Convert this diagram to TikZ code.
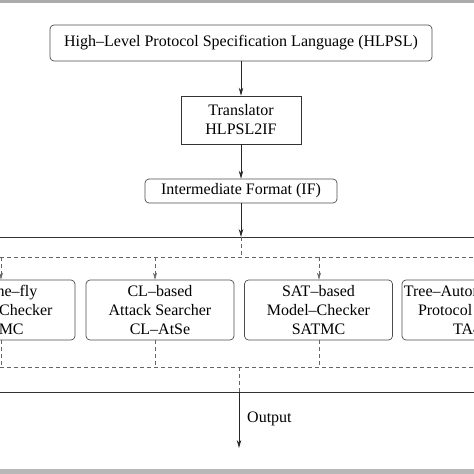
\documentclass[tikz,border=0pt]{standalone}
\usepackage{fontspec}
\setmainfont{Liberation Serif}
\usetikzlibrary{arrows.meta}
\begin{document}
\begin{tikzpicture}[x=1pt,y=-1pt,
  font=\fontsize{16}{19}\selectfont,
  rbox/.style={draw=black!70,rounded corners=4pt,line width=0.7pt,align=center,inner sep=0pt},
  sbox/.style={draw=black!80,line width=0.7pt,align=center,inner sep=0pt},
  tool/.style={rbox,minimum width=148pt,minimum height=60pt},
  arr/.style={-{Stealth[length=8pt,width=4.5pt]},line width=0.7pt,black!85},
  dline/.style={dash pattern=on 4pt off 3pt,line width=0.6pt,black!60},
  darr/.style={dline,-{Stealth[length=7pt,width=4pt]}},
  sline/.style={line width=0.8pt,black!80}]
\useasboundingbox (0,0) rectangle (474,474);
\clip (0,0) rectangle (474,474);
\fill[black!33] (0,0) rectangle (474,2.5);
\fill[black!28] (0,469) rectangle (474,474);

\node[rbox,minimum width=382pt,minimum height=36pt] (hl) at (241,43) {High--Level Protocol Specification Language (HLPSL)};
\node[sbox,minimum width=120pt,minimum height=48pt] (tr) at (241,120) {Translator\\HLPSL2IF};
\node[rbox,minimum width=192pt,minimum height=24pt] (if) at (241,191) {Intermediate Format (IF)};

\coordinate (s1) at (241,237);
\coordinate (d1) at (241,257);
\draw[arr] (hl) -- (tr);
\draw[arr] (tr) -- (if);
\draw[arr] (if) -- (s1);
\draw[sline] (0,237) -- (474,237);
\draw[dline] (s1) -- (d1);
\draw[dline] (0,257) -- (474,257);

\node[tool] (b1) at (1,310) {On--the--fly\\Model--Checker\\OFMC};
\node[tool] (b2) at (160,310) {CL--based\\Attack Searcher\\CL--AtSe};
\node[tool] (b3) at (318.5,310) {SAT--based\\Model--Checker\\SATMC};
\node[tool] (b4) at (476,310) {Tree--Automata--based\\Protocol Analyser\\TA4SP};

\foreach \n/\x in {1/1,2/155,3/319,4/476}{
  \coordinate (t\n) at (\x,257);
  \coordinate (u\n) at (\x,367);
  \draw[darr] (t\n) -- (b\n.north -| t\n);
  \draw[dline] (b\n.south -| t\n) -- (u\n);
}
\draw[dline] (0,367) -- (474,367);
\coordinate (d2) at (239,367);
\coordinate (s2) at (239,392);
\coordinate (out) at (239,448);
\draw[dline] (d2) -- (s2);
\draw[sline] (0,392) -- (474,392);
\draw[arr] (s2) -- (out);
\node[anchor=west,inner sep=0pt] (ol) at (247,419) {Output};
\end{tikzpicture}
\end{document}
